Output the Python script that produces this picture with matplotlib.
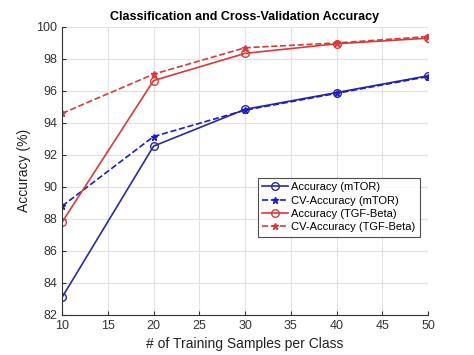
import matplotlib.pyplot as plt
import numpy as np

plt.rcParams['font.family'] = ['Liberation Sans', 'DejaVu Sans']

samples = [10, 20, 30, 40, 50]
acc_mtor = [83.1, 92.55, 94.85, 95.9, 96.95]
cv_mtor = [88.8, 93.15, 94.8, 95.85, 96.9]
acc_tgf = [87.8, 96.65, 98.35, 98.95, 99.3]
cv_tgf = [94.6, 97.05, 98.7, 99.0, 99.4]

blue = '#2a2a9c'
blue_cv = '#1c1cc8'
red = '#d83a3a'

fig = plt.figure(figsize=(4.74, 3.55), dpi=100)
ax = fig.add_axes([0.131, 0.113, 0.772, 0.811])

ax.plot(samples, acc_mtor, '-o', color=blue, lw=1.2, ms=5.5, mfc='none', mew=1.0,
        label='Accuracy (mTOR)')
ax.plot(samples, cv_mtor, '--*', color=blue_cv, lw=1.2, ms=5, mew=1.0,
        label='CV-Accuracy (mTOR)')
ax.plot(samples, acc_tgf, '-o', color=red, lw=1.2, ms=5.5, mfc='none', mew=1.0,
        label='Accuracy (TGF-Beta)')
ax.plot(samples, cv_tgf, '--*', color=red, lw=1.2, ms=5, mew=1.0,
        label='CV-Accuracy (TGF-Beta)')

ax.set_xlim(10, 50)
ax.set_ylim(82, 100)
ax.set_xticks(np.arange(10, 51, 5))
ax.set_yticks(np.arange(82, 101, 2))
ax.grid(True, color='#e2e2e2', lw=0.8)
ax.set_axisbelow(True)
for s in ['top', 'right']:
    ax.spines[s].set_visible(False)
for s in ['left', 'bottom']:
    ax.spines[s].set_color('#333333')
    ax.spines[s].set_linewidth(0.8)
ax.tick_params(direction='in', length=3, labelsize=9, colors='#333333',
               labelcolor='#333333')

ax.set_title('Classification and Cross-Validation Accuracy', fontsize=9,
             fontweight='bold', pad=5)
ax.set_xlabel('# of Training Samples per Class', fontsize=10, color='#222222')
ax.set_ylabel('Accuracy (%)', fontsize=10, color='#222222')

leg = ax.legend(loc='upper left', bbox_to_anchor=(0.535, 0.476), fontsize=8,
                frameon=True, fancybox=False, edgecolor='#222222',
                borderpad=0.4, labelspacing=0.3, handlelength=2.3,
                handletextpad=0.3, borderaxespad=0)
leg.get_frame().set_linewidth(0.8)

fig.savefig('out.png', dpi=100)
